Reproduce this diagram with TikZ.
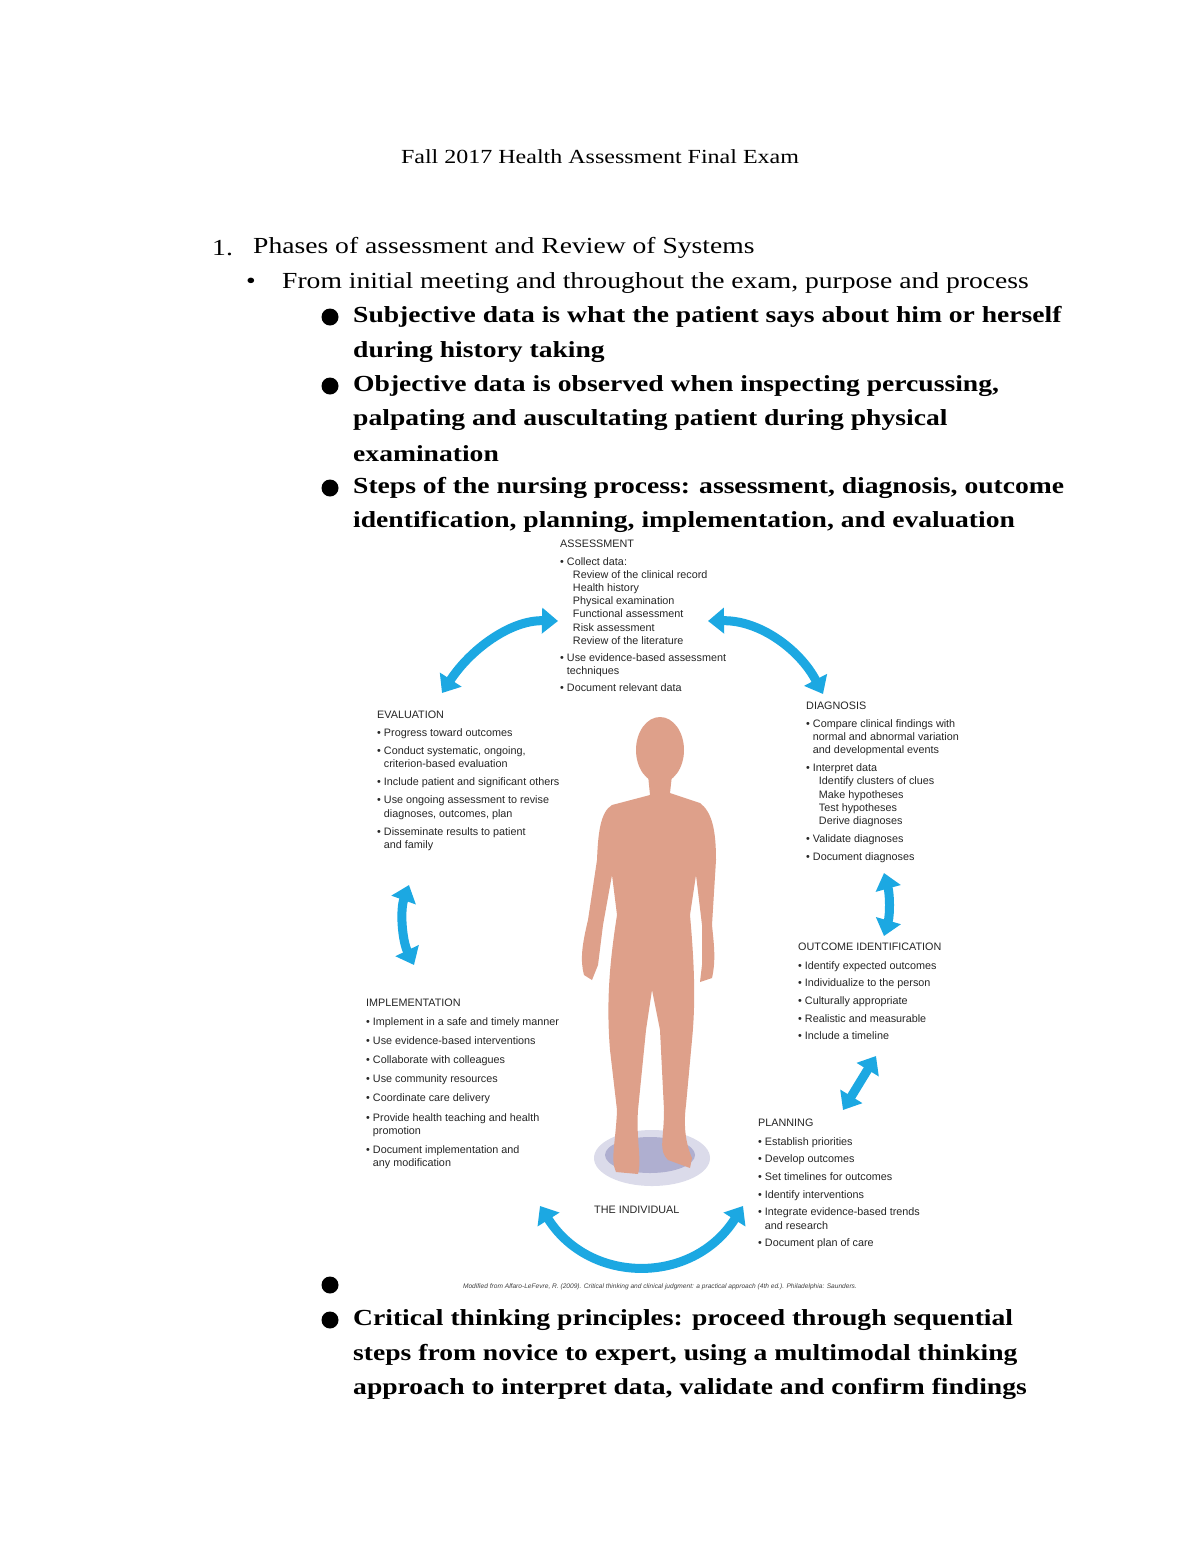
\documentclass[tikz,border=0pt]{standalone}
\usepackage{fontspec}
\setmainfont[FakeStretch=1.2]{Liberation Serif}
\newfontfamily\dsans{Liberation Sans}
\usetikzlibrary{arrows.meta}
\definecolor{cy}{RGB}{28,168,226}
\definecolor{skin}{RGB}{222,160,138}
\definecolor{shade}{RGB}{110,110,170}
\newcommand{\bu}{\textbullet\ }
\newcommand{\hb}{\hphantom{\textbullet\ }}
\begin{document}
\begin{tikzpicture}[x=1pt,y=-1pt,
  body/.style={anchor=west,inner sep=0pt,font=\fontsize{23}{28}\selectfont},
  bbody/.style={body,font=\fontsize{23}{28}\selectfont\bfseries},
  dot/.style={fill=black,circle,inner sep=0pt,minimum size=17pt},
  dtext/.style={anchor=north west,inner sep=0pt,align=left,text=black!85,font=\dsans\fontsize{10.8}{13.2}\selectfont},
  dhead/.style={anchor=north west,inner sep=0pt,text=black!85,font=\dsans\fontsize{10.8}{13.2}\selectfont},
  cyarrow/.style={cy,line width=9pt,{Triangle[length=16pt,width=25pt]}-{Triangle[length=16pt,width=25pt]}}]
\useasboundingbox (0,0) rectangle (1200,1553);
\fill[white] (0,0) rectangle (1200,1553);
% main text
\node[inner sep=0pt,font=\fontsize{20}{24}\selectfont] (title) at (600,157) {Fall 2017 Health Assessment Final Exam};
\node[body] (n1) at (212,248) {1.};
\node[body] (p1) at (253,248) {Phases of assessment and Review of Systems};
\node[body] (b0) at (246,283) {\textbullet};
\node[body] (t0) at (282,283) {From initial meeting and throughout the exam, purpose and process};
\node[dot] (d1) at (330,317) {};
\node[bbody] (t1a) at (353,317) {Subjective data is what the patient says about him or herself};
\node[bbody] (t1b) at (353,352) {during history taking};
\node[dot] (d2) at (330,386) {};
\node[bbody] (t2a) at (353,386) {Objective data is observed when inspecting percussing,};
\node[bbody] (t2b) at (353,420) {palpating and auscultating patient during physical};
\node[bbody] (t2c) at (353,454) {examination};
\node[dot] (d3) at (330,488) {};
\node[bbody] (t3a) at (353,488) {Steps of the nursing process: assessment, diagnosis, outcome};
\node[bbody] (t3b) at (353,522) {identification, planning, implementation, and evaluation};
\node[dot] (d4) at (330,1285) {};
\node[dot] (d5) at (330,1320) {};
\node[bbody] (t5a) at (353,1320) {Critical thinking principles: proceed through sequential};
\node[bbody] (t5b) at (353,1355) {steps from novice to expert, using a multimodal thinking};
\node[bbody] (t5c) at (353,1389) {approach to interpret data, validate and confirm findings};
\node[inner sep=0pt,text=black!75,font=\dsans\itshape\fontsize{6.6}{7}\selectfont] (cite) at (660,1287) {Modified from Alfaro-LeFevre, R. (2009). Critical thinking and clinical judgment: a practical approach (4th ed.). Philadelphia: Saunders.};
% figure
\fill[shade!25] (652,1158) ellipse (58pt and 28pt);
\fill[shade!55] (650,1155) ellipse (45pt and 18pt);
\fill[skin] (660,750) ellipse (24pt and 33pt);
\fill[skin] (648,775) -- (650,795) -- (612,805) .. controls (600,812) and (598,835) .. (597,860)
 -- (588,920) .. controls (582,945) and (580,960) .. (584,975) -- (592,980) -- (598,965)
 -- (603,925) -- (612,875) -- (617,915) .. controls (610,960) and (606,1000) .. (610,1050)
 -- (617,1110) .. controls (616,1140) and (610,1160) .. (616,1172) -- (638,1174)
 .. controls (642,1160) and (636,1140) .. (638,1110) -- (646,1030) -- (652,990)
 -- (660,1030) -- (664,1110) .. controls (664,1140) and (658,1150) .. (668,1160)
 -- (690,1168) -- (692,1158) .. controls (684,1140) and (684,1120) .. (686,1105)
 -- (692,1040) .. controls (696,1000) and (694,960) .. (690,915) -- (696,875)
 -- (702,925) -- (702,965) -- (700,982) -- (712,978) .. controls (716,960) and (714,945) .. (712,925)
 -- (716,860) .. controls (716,830) and (712,812) .. (700,803) -- (670,793) -- (672,775) -- cycle;
% arrows
\coordinate (a1s) at (442,693); \coordinate (a1e) at (558,621);
\draw[cyarrow] (a1s) .. controls (470,650) and (510,620) .. (a1e);
\coordinate (a2s) at (708,621); \coordinate (a2e) at (823,694);
\draw[cyarrow] (a2s) .. controls (760,620) and (800,650) .. (a2e);
\coordinate (a3s) at (409,885); \coordinate (a3e) at (414,965);
\draw[cyarrow] (a3s) .. controls (400,910) and (402,940) .. (a3e);
\coordinate (a4s) at (884,873); \coordinate (a4e) at (884,936);
\draw[cyarrow] (a4s) .. controls (890,895) and (890,915) .. (a4e);
\coordinate (a5s) at (876,1056); \coordinate (a5e) at (843,1110);
\draw[cyarrow] (a5s) -- (a5e);
\coordinate (a6s) at (540,1206); \coordinate (a6e) at (743,1206);
\draw[cyarrow] (a6s) .. controls (590,1285) and (693,1285) .. (a6e);
% diagram text
\node[dhead] (ash) at (560,540) {ASSESSMENT};
\node[dtext] (asb) at (560,557) {\bu Collect data:\\
\hb\hspace*{6pt}Review of the clinical record\\
\hb\hspace*{6pt}Health history\\
\hb\hspace*{6pt}Physical examination\\
\hb\hspace*{6pt}Functional assessment\\
\hb\hspace*{6pt}Risk assessment\\
\hb\hspace*{6pt}Review of the literature\\[4pt]
\bu Use evidence-based assessment\\ \hb techniques\\[4pt]
\bu Document relevant data};
\node[dhead] (evh) at (377,711) {EVALUATION};
\node[dtext] (evb) at (377,728) {\bu Progress toward outcomes\\[5pt]
\bu Conduct systematic, ongoing,\\ \hb criterion-based evaluation\\[5pt]
\bu Include patient and significant others\\[5pt]
\bu Use ongoing assessment to revise\\ \hb diagnoses, outcomes, plan\\[5pt]
\bu Disseminate results to patient\\ \hb and family};
\node[dhead] (dgh) at (806,702) {DIAGNOSIS};
\node[dtext] (dgb) at (806,719) {\bu Compare clinical findings with\\ \hb normal and abnormal variation\\ \hb and developmental events\\[5pt]
\bu Interpret data\\
\hb\hspace*{6pt}Identify clusters of clues\\
\hb\hspace*{6pt}Make hypotheses\\
\hb\hspace*{6pt}Test hypotheses\\
\hb\hspace*{6pt}Derive diagnoses\\[5pt]
\bu Validate diagnoses\\[5pt]
\bu Document diagnoses};
\node[dhead] (ouh) at (798,943) {OUTCOME IDENTIFICATION};
\node[dtext] (oub) at (798,961) {\bu Identify expected outcomes\\[4.5pt]
\bu Individualize to the person\\[4.5pt]
\bu Culturally appropriate\\[4.5pt]
\bu Realistic and measurable\\[4.5pt]
\bu Include a timeline};
\node[dhead] (imh) at (366,999) {IMPLEMENTATION};
\node[dtext] (imb) at (366,1017) {\bu Implement in a safe and timely manner\\[6pt]
\bu Use evidence-based interventions\\[6pt]
\bu Collaborate with colleagues\\[6pt]
\bu Use community resources\\[6pt]
\bu Coordinate care delivery\\[6pt]
\bu Provide health teaching and health\\ \hb promotion\\[6pt]
\bu Document implementation and\\ \hb any modification};
\node[dhead] (plh) at (758,1119) {PLANNING};
\node[dtext] (plb) at (758,1137) {\bu Establish priorities\\[4.5pt]
\bu Develop outcomes\\[4.5pt]
\bu Set timelines for outcomes\\[4.5pt]
\bu Identify interventions\\[4.5pt]
\bu Integrate evidence-based trends\\ \hb and research\\[4.5pt]
\bu Document plan of care};
\node[dhead] (ind) at (594,1206) {THE INDIVIDUAL};
\end{tikzpicture}
\end{document}
